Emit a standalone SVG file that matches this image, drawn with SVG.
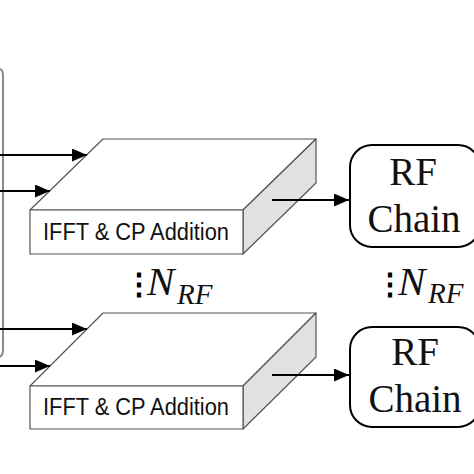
<svg xmlns="http://www.w3.org/2000/svg" width="474" height="474" viewBox="0 0 474 474">
<defs>
<style>
.face{fill:#ffffff;stroke:#555555;stroke-width:1.2;stroke-linejoin:round}
.side{fill:#e1e1e1;stroke:#555555;stroke-width:1.2;stroke-linejoin:round}
.lbl{font-family:"Liberation Sans",Arial,sans-serif;font-size:23px;fill:#111111}
.rf{fill:#ffffff;stroke:#000000;stroke-width:2}
.rft{font-family:"Liberation Serif","Times New Roman",serif;font-size:39px;fill:#111111;text-anchor:middle}
.nrf{font-family:"Liberation Serif","Times New Roman",serif;font-style:italic;fill:#111111}
.dots{font-family:"Noto Sans CJK SC",sans-serif;font-style:normal;font-weight:bold;text-anchor:middle}
.arr{stroke:#000000;stroke-width:2;fill:none;marker-end:url(#ah)}
</style>
<marker id="ah" markerUnits="userSpaceOnUse" markerWidth="16" markerHeight="14" refX="15" refY="6.5" orient="auto">
<path d="M0,0 L15,6.5 L0,13 Z" fill="#000000"/>
</marker>
</defs>
<rect x="0" y="0" width="474" height="474" fill="#ffffff"/>

<g id="bus">
<path d="M0,69 Q3,70 3,76 L3,350 Q3,355 0,357" fill="none" stroke="#8a8a8a" stroke-width="2"/>
</g>

<g id="ifft1">
<polygon class="face" points="30,210 103,139 316,139 243,210"/>
<polygon class="side" points="243,210 316,139 316,183 243,254"/>
<rect class="face" x="30" y="210" width="213" height="44"/>
<text class="lbl" x="43" y="240" textLength="186" lengthAdjust="spacingAndGlyphs">IFFT &amp; CP Addition</text>
</g>

<g id="ifft2">
<polygon class="face" points="30,386 103,313 316,313 243,386"/>
<polygon class="side" points="243,386 316,313 316,357 243,429"/>
<rect class="face" x="30" y="386" width="213" height="43"/>
<text class="lbl" x="43" y="415" textLength="186" lengthAdjust="spacingAndGlyphs">IFFT &amp; CP Addition</text>
</g>

<g id="rf1">
<rect class="rf" x="350" y="145" width="130" height="102" rx="22" ry="22"/>
<text class="rft" x="413" y="185">RF</text>
<text class="rft" x="414" y="232">Chain</text>
</g>

<g id="rf2">
<rect class="rf" x="350" y="327" width="130" height="100" rx="22" ry="22"/>
<text class="rft" x="415" y="365">RF</text>
<text class="rft" x="415" y="412">Chain</text>
</g>

<g id="nrf-labels">
<text class="dots" x="139" y="294" font-size="30">⋮</text>
<text class="nrf" y="295" font-size="41"><tspan x="147">N</tspan><tspan x="177" font-size="29" dy="9">RF</tspan></text>
<text class="dots" x="390" y="294" font-size="30">⋮</text>
<text class="nrf" y="295" font-size="41"><tspan x="398">N</tspan><tspan x="428" font-size="29" dy="8">RF</tspan></text>
</g>

<g id="connectors">
<line class="arr" x1="0" y1="155" x2="87" y2="155"/>
<line class="arr" x1="0" y1="191" x2="50" y2="191"/>
<line class="arr" x1="0" y1="329" x2="87" y2="329"/>
<line class="arr" x1="0" y1="366" x2="50" y2="366"/>
<line class="arr" x1="272" y1="200" x2="349" y2="200"/>
<line class="arr" x1="272" y1="375" x2="349" y2="375"/>
</g>
</svg>
